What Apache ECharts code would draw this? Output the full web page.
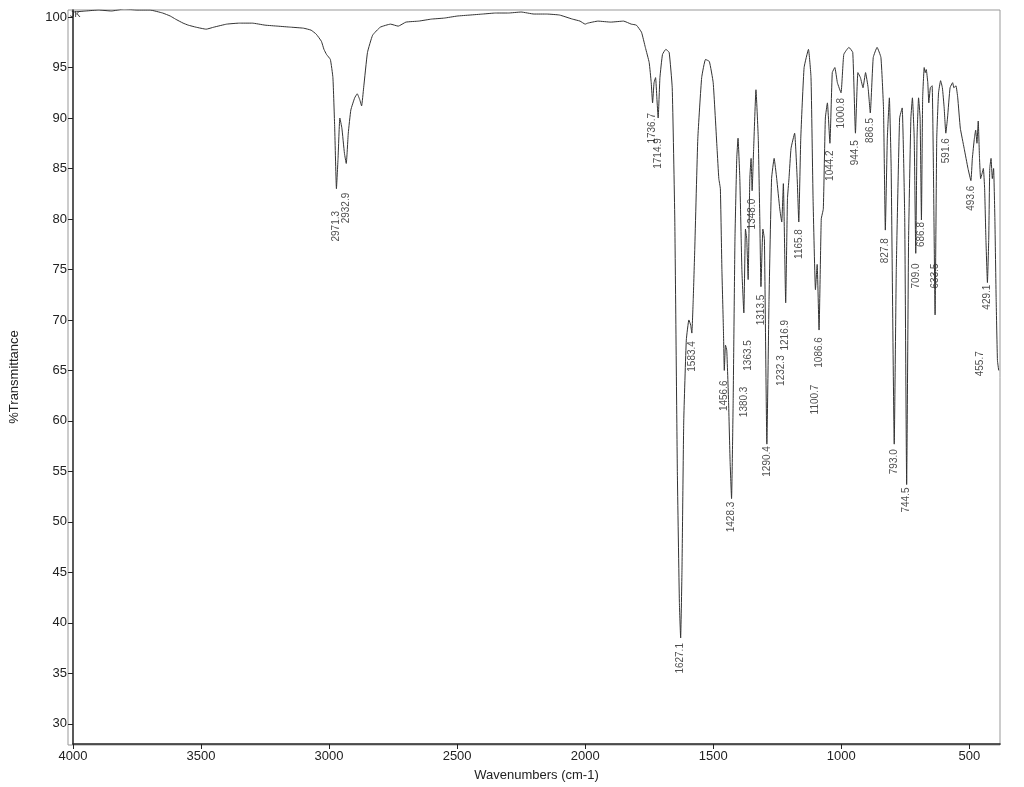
<!DOCTYPE html>
<html><head><meta charset="utf-8">
<script src="https://cdn.jsdelivr.net/npm/echarts@6/dist/echarts.min.js"></script>
<style>html,body{margin:0;padding:0;background:#fff}#c{width:1024px;height:787px}</style>
</head><body><div id="c"></div>
<script>
// spectrum as [wavenumber, %T]
var spectrum = [
  [4000,100.5],[3950,100.6],[3900,100.7],[3850,100.6],[3800,100.8],[3750,100.7],[3700,100.7],[3650,100.4],
  [3620,100.1],[3600,99.8],[3570,99.4],[3550,99.2],[3520,99.0],[3480,98.8],[3450,99.0],[3400,99.3],
  [3350,99.4],[3300,99.4],[3250,99.2],[3200,99.1],[3150,99.0],[3100,98.9],[3070,98.7],[3050,98.3],
  [3030,97.6],[3020,96.8],[3010,96.3],[2995,95.8],[2985,94],[2978,89],[2971.3,83],[2965,86],[2958,90],
  [2950,89],[2940,86.5],[2932.9,85.5],[2925,88.5],[2915,90.8],[2900,92],[2890,92.4],[2880,91.8],[2873,91.2],
  [2865,93],[2850,96.5],[2830,98.2],[2800,99],[2760,99.3],[2730,99.1],[2700,99.5],[2650,99.6],[2600,99.8],
  [2550,99.9],[2500,100.1],[2450,100.2],[2400,100.3],[2350,100.4],[2300,100.4],[2250,100.5],[2200,100.3],
  [2150,100.3],[2100,100.2],[2050,99.8],[2020,99.6],[2000,99.3],[1990,99.4],[1950,99.6],[1900,99.5],
  [1850,99.6],[1820,99.3],[1800,99.2],[1780,98.5],[1765,97],[1750,95.5],[1742,93.5],[1736.7,91.5],
  [1731,93.5],[1725,94],[1720,92],[1714.9,90],[1708,94],[1698,96.3],[1685,96.8],[1672,96.5],[1660,93],
  [1650,80],[1640,55],[1632,42],[1627.1,38.5],[1622,45],[1615,60],[1605,68],[1595,70],[1588,69.5],
  [1583.4,68.7],[1578,72],[1572,77],[1560,88],[1545,94],[1530,95.8],[1515,95.6],[1500,93.5],[1485,87],
  [1478,84],[1472,83],[1466,75],[1460,69],[1456.6,65],[1452,67.5],[1447,67],[1440,62],[1434,56],
  [1428.3,52.3],[1422,62],[1415,78],[1408,86],[1403,88],[1396,84],[1388,75],[1380.3,70.7],[1374,79],
  [1369,78],[1363.5,74],[1357,84],[1352,86],[1348,82.8],[1342,87],[1333,92.8],[1324,88],[1318,80],
  [1313.5,73.3],[1306,79],[1300,78],[1290.4,57.7],[1282,72],[1272,84],[1262,86],[1252,84],[1240,81],
  [1232.3,79.7],[1226,83.5],[1216.9,71.7],[1210,82],[1204,84],[1196,87],[1182,88.5],[1172,84],
  [1165.8,79.7],[1158,88],[1145,95],[1128,96.8],[1118,94],[1110,82],[1100.7,73],[1094,75.5],
  [1086.6,69],[1078,80],[1070,81],[1062,90],[1054,91.5],[1044.2,87.5],[1035,94.5],[1025,95],[1015,93.5],
  [1000.8,92.5],[990,96.3],[970,97],[955,96.5],[944.5,88.5],[935,94.5],[925,94],[915,93],[905,94.5],
  [895,93],[886.5,90.5],[875,96],[860,97],[845,96],[835,91],[827.8,78.9],[820,88],[812,92],[805,85],
  [793,57.7],[785,75],[772,90],[762,91],[752,80],[744.5,53.7],[737,78],[728,90],[722,92],[715,88],
  [709,76.6],[704,88],[698,92],[692,90],[686.8,79.9],[682,92],[676,95],[672,94.5],[668,94.8],[662,93.5],
  [658,91.5],[652,93],[645,93.2],[640,85],[633.5,70.5],[627,88],[620,92.5],[612,93.7],[605,93],[598,91],
  [591.6,88.5],[585,90],[575,93],[565,93.5],[560,93],[552,93.2],[545,92],[535,89],[520,87],[505,85],
  [493.6,83.8],[488,86],[480,88],[475,88.8],[470,87.5],[465,89.7],[460,86],[455.7,84],[450,84.5],
  [445,85],[440,83],[435,78],[429.1,73.7],[424,78],[420,85],[415,86],[410,84],[405,85],[400,80],
  [395,72],[390,66],[385,65]
];
// peak labels: [wavenumber, label position %T, text]
var peakLabels = [
  [2971.3,80.8,'2971.3'],[2932.9,82.6,'2932.9'],[1736.7,90.5,'1736.7'],[1714.9,88,'1714.9'],
  [1627.1,38,'1627.1'],[1583.4,67.9,'1583.4'],[1456.6,64,'1456.6'],[1428.3,52,'1428.3'],
  [1380.3,63.4,'1380.3'],[1363.5,68,'1363.5'],[1348.0,82,'1348.0'],[1313.5,72.5,'1313.5'],
  [1290.4,57.5,'1290.4'],[1232.3,66.5,'1232.3'],[1216.9,70,'1216.9'],[1165.8,79,'1165.8'],
  [1100.7,63.6,'1100.7'],[1086.6,68.3,'1086.6'],[1044.2,86.8,'1044.2'],[1000.8,92,'1000.8'],
  [944.5,87.8,'944.5'],[886.5,90,'886.5'],[827.8,78.1,'827.8'],[793.0,57.2,'793.0'],
  [744.5,53.4,'744.5'],[709.0,75.6,'709.0'],[686.8,79.7,'686.8'],[633.5,75.6,'633.5'],
  [591.6,88,'591.6'],[493.6,83.3,'493.6'],[455.7,66.9,'455.7'],[429.1,73.5,'429.1']
];
var xTicks = [4000,3500,3000,2500,2000,1500,1000,500];
var yTicks = [30,35,40,45,50,55,60,65,70,75,80,85,90,95,100];

var myChart = echarts.init(document.getElementById('c'));
var font = 'Liberation Sans, Arial, sans-serif';
var option = {
  animation: false,
  grid: {left: 68, right: 24, top: 10, bottom: 42},
  xAxis: {
    type: 'value', inverse: true, min: 380, max: 4000,
    name: 'Wavenumbers (cm-1)', nameLocation: 'middle', nameGap: 25,
    nameTextStyle: {color: '#222', fontSize: 13, fontFamily: font},
    axisLine: {lineStyle: {color: '#222', width: 1.5}},
    axisTick: {customValues: xTicks, length: 5, lineStyle: {color: '#222'}},
    axisLabel: {customValues: xTicks, color: '#222', fontSize: 13, fontFamily: font, margin: 6,
      formatter: function (v) { return String(v); }},
    splitLine: {show: false}
  },
  yAxis: {
    type: 'value', min: 28, max: 100.7,
    name: '%Transmittance', nameLocation: 'middle', nameGap: 52,
    nameTextStyle: {color: '#222', fontSize: 13, fontFamily: font},
    axisLine: {show: true, lineStyle: {color: '#222', width: 1.5}},
    axisTick: {customValues: yTicks, length: 5, lineStyle: {color: '#222'}},
    axisLabel: {customValues: yTicks, color: '#222', fontSize: 13, fontFamily: font, margin: 6},
    splitLine: {show: false}
  },
  graphic: [{type: 'rect', shape: {x: 68, y: 10, width: 932, height: 735},
    style: {fill: 'none', stroke: '#999', lineWidth: 1}, silent: true},
    {type: 'text', left: 70, top: 10, style: {text: 'JK', fontSize: 9, fill: '#333', fontFamily: font}}],
  series: [{
    type: 'line', data: spectrum, showSymbol: false, smooth: 0.12,
    lineStyle: {color: '#333', width: 1}
  }, {
    type: 'scatter', data: peakLabels, symbolSize: 1, itemStyle: {color: 'transparent'},
    label: {
      show: true, position: 'inside', rotate: 90, align: 'right', verticalAlign: 'middle',
      fontSize: 10, color: '#222', fontFamily: font,
      formatter: function (p) { return p.data[2]; }
    }
  }]
};
myChart.setOption(option);
</script></body></html>
